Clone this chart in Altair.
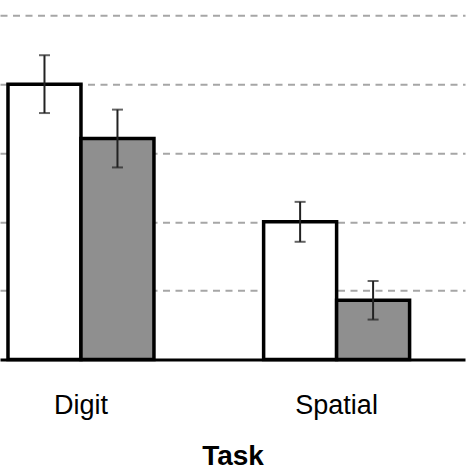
import altair as alt
import pandas as pd

tasks = ["Digit", "Digit", "Spatial", "Spatial"]
conditions = ["Condition 1", "Condition 2", "Condition 1", "Condition 2"]
means = [4.00, 3.21, 2.00, 0.86]
errors = [0.42, 0.42, 0.29, 0.28]
grid_values = [1, 2, 3, 4, 5]
fill_colors = ["#ffffff", "#8f8f8f"]

df = pd.DataFrame({"Task": tasks, "Condition": conditions, "Mean": means, "Err": errors})
df["Lo"] = df["Mean"] - df["Err"]
df["Hi"] = df["Mean"] + df["Err"]

FONT = "Liberation Sans"

x_enc = alt.X(
    "Task:N",
    scale=alt.Scale(paddingInner=0.429, paddingOuter=0.124, align=0.126),
    axis=alt.Axis(
        title="Task", titleFont=FONT, titleFontSize=28, titleFontWeight="bold",
        titleColor="black", titlePadding=24,
        labelFont=FONT, labelFontSize=27, labelColor="black", labelAngle=0,
        labelPadding=33, ticks=False, tickSize=0,
        domainColor="black", domainWidth=3, grid=False, zindex=1,
    ),
)
xo_enc = alt.XOffset("Condition:N", scale=alt.Scale(paddingInner=0, paddingOuter=0))

y_axis = alt.Axis(
    values=grid_values, labels=False, ticks=False, domain=False, title=None,
    grid=True, gridColor="#a6a6a6", gridDash=[7, 5.5], gridWidth=2,
)
y_scale = alt.Scale(domain=[0, 5], nice=False, zero=True)

base = alt.Chart(df)

bars = base.mark_bar(stroke="black", strokeWidth=3.5).encode(
    x=x_enc,
    xOffset=xo_enc,
    y=alt.Y("Mean:Q", scale=y_scale, axis=y_axis),
    fill=alt.Fill("Condition:N", scale=alt.Scale(domain=["Condition 1", "Condition 2"], range=fill_colors), legend=None),
)

rules = base.mark_rule(color="#222222", strokeWidth=2).encode(
    x=x_enc,
    xOffset=xo_enc,
    y=alt.Y("Lo:Q", scale=y_scale, axis=y_axis),
    y2="Hi:Q",
)

caps_hi = base.mark_tick(color="#222222", size=11, thickness=2).encode(
    x=x_enc,
    xOffset=xo_enc,
    y=alt.Y("Hi:Q", scale=y_scale, axis=y_axis),
)
caps_lo = base.mark_tick(color="#222222", size=11, thickness=2).encode(
    x=x_enc,
    xOffset=xo_enc,
    y=alt.Y("Lo:Q", scale=y_scale, axis=y_axis),
)

chart = alt.layer(bars, rules, caps_hi, caps_lo).properties(
    width=465,
    height=344.2,
    autosize=alt.AutoSizeParams(type="none"),
    padding={"left": 0, "top": 15.3, "right": 9, "bottom": 114.5},
    background="white",
).configure_view(stroke=None)

chart.save("out.html", embed_options={"renderer": "svg", "actions": False})
